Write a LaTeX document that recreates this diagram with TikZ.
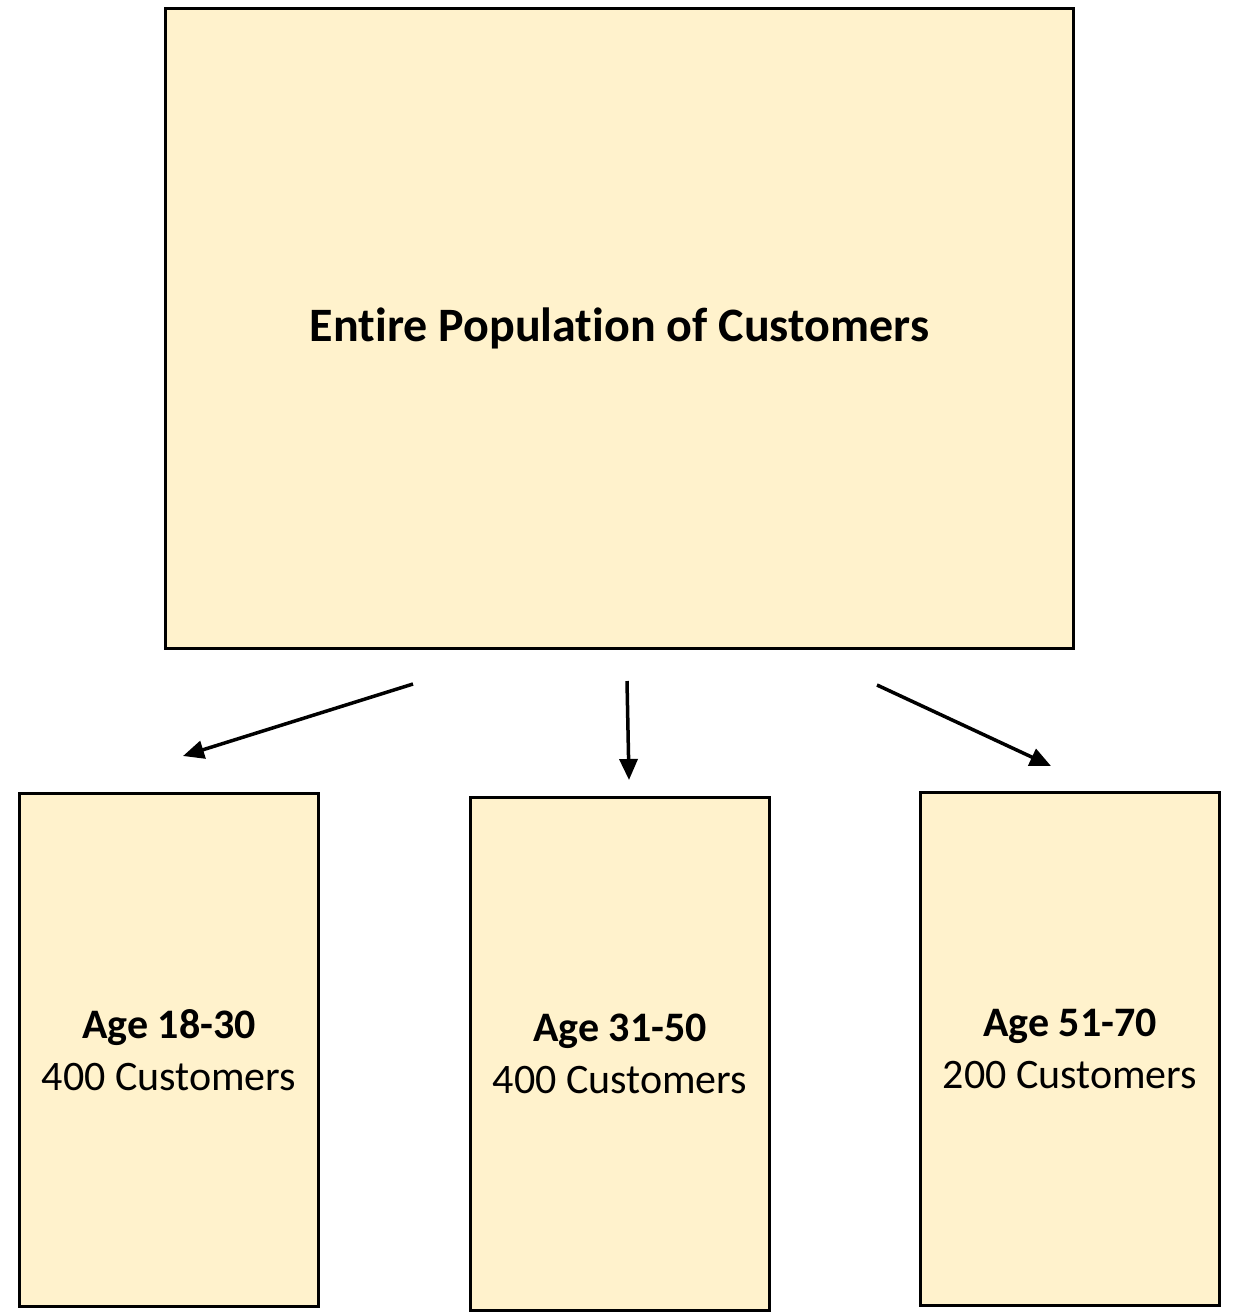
\documentclass[tikz,border=0pt]{standalone}
\usepackage{fontspec}
\setmainfont{Carlito}[Ligatures=NoCommon]
\usetikzlibrary{arrows.meta}
\definecolor{boxfill}{HTML}{FFF2CC}

\begin{document}
\begin{tikzpicture}[x=1pt, y=-1pt,
  box/.style={rectangle, draw=black, fill=boxfill, line width=3pt, inner sep=0pt, align=center},
  arr/.style={line width=3.5pt, -{Triangle[length=21pt, width=18pt]}}]
\useasboundingbox (0,0) rectangle (1237,1315);

\node[box, minimum width=908pt, minimum height=640pt, font=\fontsize{48}{58}\selectfont\bfseries] (pop) at (619.5,328.5) {Entire Population of Customers};

\node[box, minimum width=299pt, minimum height=513pt, font=\fontsize{42}{52}\selectfont] (young) at (169,1050) {\textbf{Age 18-30}\\400 Customers};
\node[box, minimum width=299pt, minimum height=513pt, font=\fontsize{42}{52}\selectfont] (middle) at (620,1054) {\textbf{Age 31-50}\\400 Customers};
\node[box, minimum width=299pt, minimum height=513pt, font=\fontsize{42}{52}\selectfont] (old) at (1070,1048.5) {\textbf{Age 51-70}\\200 Customers};

\coordinate (s1) at (413,684);
\coordinate (e1) at (183,756);
\coordinate (s2) at (627,681);
\coordinate (e2) at (629,780);
\coordinate (s3) at (877,685);
\coordinate (e3) at (1051,766);

\draw[arr] (s1) -- (e1);
\draw[arr] (s2) -- (e2);
\draw[arr] (s3) -- (e3);
\end{tikzpicture}
\end{document}
